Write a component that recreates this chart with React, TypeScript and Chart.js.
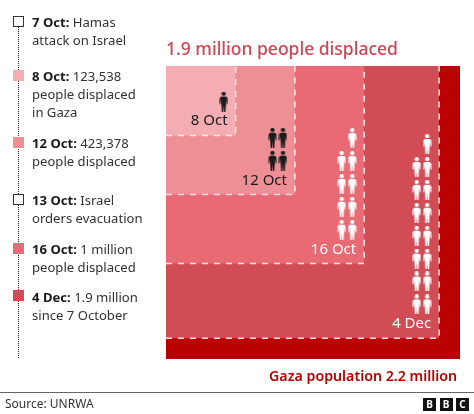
import { useEffect, useRef } from "react";
import { Chart, registerables, type Plugin } from "chart.js";

Chart.register(...registerables);

const FONT = '"Noto Sans", "Open Sans", sans-serif';

// timeline on the left
const timelineDates = ["7 Oct:", "8 Oct:", "12 Oct:", "13 Oct:", "16 Oct:", "4 Dec:"];
const timelineFirst = ["Hamas", "123,538", "423,378", "Israel", "1 million", "1.9 million"];
const timelineRest = [
  ["attack on Israel"],
  ["people displaced", "in Gaza"],
  ["people displaced"],
  ["orders evacuation"],
  ["people displaced"],
  ["since 7 October"],
];
const timelineColors = ["#ffffff", "#f4aeb3", "#ee8f96", "#ffffff", "#e76a74", "#d24c55"];
const timelineTops = [16, 70, 137, 194, 243, 290];

// nested squares, area = people
const stepLabels = ["8 Oct", "12 Oct", "16 Oct", "4 Dec"];
const stepPeople = [123538, 423378, 1000000, 1900000];
const stepIcons = [1, 4, 9, 15];
const stepColors = ["#f4aeb3", "#ee8f96", "#e76a74", "#d24c55"];
const stepDashes = [
  "rgba(255,255,255,0.75)",
  "rgba(255,255,255,0.75)",
  "rgba(255,255,255,0.8)",
  "rgba(255,255,255,0.85)",
];
const stepInk = ["#1a1a1a", "#1a1a1a", "#ffffff", "#ffffff"];
const gazaPopulation = 2200000;

const side = (people: number) => Math.sqrt(people);
const UNITS_PER_PX = side(gazaPopulation) / 294;

function personIcon(color: string) {
  const c = document.createElement("canvas");
  c.width = 9;
  c.height = 20;
  const g = c.getContext("2d")!;
  g.fillStyle = color;
  g.beginPath();
  g.arc(4.5, 2.2, 2.1, 0, Math.PI * 2);
  g.fill();
  g.beginPath();
  g.moveTo(2.2, 5);
  g.lineTo(6.8, 5);
  g.lineTo(8.4, 6.2);
  g.lineTo(8.6, 12.5);
  g.lineTo(7.6, 12.5);
  g.lineTo(7, 7.8);
  g.lineTo(6.8, 13);
  g.lineTo(6.3, 20);
  g.lineTo(4.9, 20);
  g.lineTo(4.5, 13.5);
  g.lineTo(4.1, 20);
  g.lineTo(2.7, 20);
  g.lineTo(2.2, 13);
  g.lineTo(2, 7.8);
  g.lineTo(1.4, 12.5);
  g.lineTo(0.4, 12.5);
  g.lineTo(0.6, 6.2);
  g.closePath();
  g.fill();
  return c;
}

// icons stack upwards from the square's bottom right corner
function iconPoints(people: number, count: number) {
  const s = side(people);
  const points = [];
  for (let i = 0; i < count; i++) {
    const row = Math.floor(i / 2);
    const col = i % 2;
    points.push({
      x: s - (12 + col * 10.5) * UNITS_PER_PX,
      y: s - (34 + row * 23) * UNITS_PER_PX,
    });
  }
  return points;
}

const squareLabels: Plugin<"line"> = {
  id: "squareLabels",
  afterDatasetsDraw(chart) {
    const { ctx, scales } = chart;
    ctx.save();
    ctx.textAlign = "right";
    ctx.textBaseline = "alphabetic";
    ctx.font = `15px ${FONT}`;
    stepLabels.forEach((label, i) => {
      const s = side(stepPeople[i]);
      ctx.fillStyle = stepInk[i];
      ctx.fillText(label, scales.x.getPixelForValue(s) - 8, scales.y.getPixelForValue(s) - 10);
    });
    ctx.font = `600 14.2px ${FONT}`;
    ctx.fillStyle = "#b80000";
    ctx.fillText(
      "Gaza population 2.2 million",
      scales.x.getPixelForValue(side(gazaPopulation)) - 3,
      scales.y.getPixelForValue(side(gazaPopulation)) + 22,
    );
    ctx.restore();
  },
};

function Timeline() {
  return (
    <div style={{ position: "absolute", left: 0, top: 0, width: 160, height: 390 }}>
      <div
        style={{
          position: "absolute",
          left: 18,
          top: 26,
          height: 332,
          borderLeft: "1px dotted #222",
        }}
      />
      {timelineDates.map((date, i) => (
        <div key={date}>
          <div
            style={{
              position: "absolute",
              left: 13,
              top: timelineTops[i],
              width: 11,
              height: 11,
              boxSizing: "border-box",
              background: timelineColors[i],
              border: timelineColors[i] === "#ffffff" ? "1px solid #333" : "none",
            }}
          />
          <div
            style={{
              position: "absolute",
              left: 32,
              top: timelineTops[i] - 3 + (i === 5 ? 1 : 0),
              fontFamily: FONT,
              fontSize: 13.1,
              lineHeight: "18px",
              color: "#333",
              whiteSpace: "nowrap",
            }}
          >
            <b style={{ color: "#1a1a1a" }}>{date}</b> {timelineFirst[i]}
            {timelineRest[i].map((line) => (
              <div key={line}>{line}</div>
            ))}
          </div>
        </div>
      ))}
    </div>
  );
}

function Footer() {
  return (
    <>
      <div style={{ position: "absolute", left: 0, top: 392, width: 474, height: 1, background: "#666" }} />
      <div
        style={{
          position: "absolute",
          left: 5,
          top: 396,
          fontFamily: FONT,
          fontSize: 12,
          lineHeight: "16px",
          color: "#333",
        }}
      >
        Source: UNRWA
      </div>
      {["B", "B", "C"].map((letter, i) => (
        <div
          key={i}
          style={{
            position: "absolute",
            left: 423 + i * 16.5,
            top: 398,
            width: 13,
            height: 13,
            background: "#111",
            color: "#fff",
            fontFamily: FONT,
            fontWeight: 700,
            fontSize: 10,
            lineHeight: "13px",
            textAlign: "center",
          }}
        >
          {letter}
        </div>
      ))}
    </>
  );
}

export default function App() {
  const canvasRef = useRef<HTMLCanvasElement>(null);

  useEffect(() => {
    if (!canvasRef.current) return;
    const dark = personIcon("#1a1a1a");
    const light = personIcon("#ffffff");

    const iconSets = stepIcons.map((count, i) => ({
      label: `${stepLabels[i]} icons`,
      data: iconPoints(stepPeople[i], count),
      showLine: false,
      pointStyle: stepInk[i] === "#ffffff" ? light : dark,
      fill: false,
    }));

    const squareSets = stepPeople.map((people, i) => {
      const s = side(people);
      return {
        label: stepLabels[i],
        data: [
          { x: 0, y: s },
          { x: s, y: s },
          { x: s, y: 0 },
        ],
        borderColor: stepDashes[i],
        borderWidth: 1.6,
        borderDash: [6, 6],
        backgroundColor: stepColors[i],
        fill: "origin",
        pointRadius: 0,
      };
    });

    const outer = side(gazaPopulation);
    const outerSet = {
      label: "Gaza population",
      data: [
        { x: 0, y: outer },
        { x: outer, y: outer },
        { x: outer, y: 0 },
      ],
      borderWidth: 0,
      backgroundColor: "#bb0000",
      fill: "origin",
      pointRadius: 0,
    };

    const chart = new Chart(canvasRef.current, {
      type: "line",
      data: { datasets: [...iconSets, ...squareSets, outerSet] as any },
      options: {
        responsive: false,
        animation: false,
        layout: { padding: { left: 166, right: 14, top: 40, bottom: 55 } },
        scales: {
          x: { type: "linear", min: 0, max: outer, display: false },
          y: { type: "linear", min: 0, max: outer, reverse: true, display: false },
        },
        plugins: {
          legend: { display: false },
          tooltip: { enabled: false },
          title: {
            display: true,
            text: "1.9 million people displaced",
            align: "start",
            color: "#cf4553",
            font: { family: FONT, size: 17.5, weight: 500 },
            padding: { top: 0, bottom: 5 },
          },
        },
      },
      plugins: [squareLabels],
    });
    return () => chart.destroy();
  }, []);

  return (
    <div style={{ position: "absolute", left: 0, top: 0, width: 474, height: 414, background: "#fff", overflow: "hidden" }}>
      <canvas ref={canvasRef} width={474} height={414} style={{ position: "absolute", left: 0, top: 0 }} />
      <Timeline />
      <Footer />
    </div>
  );
}
